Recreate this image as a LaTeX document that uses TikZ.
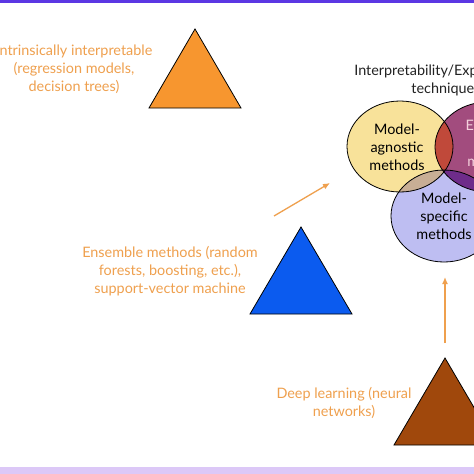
\documentclass[tikz,border=0pt]{standalone}
\usepackage{fontspec}
\setmainfont{Lato}
\usetikzlibrary{arrows.meta}
\definecolor{lblc}{HTML}{EFA04E}
\definecolor{topbar}{HTML}{5B37E3}
\definecolor{botbar}{HTML}{DCC8F7}
\definecolor{triorange}{HTML}{F7962F}
\definecolor{triblue}{HTML}{0B5BEF}
\definecolor{tribrown}{HTML}{A0480C}
\definecolor{vyellow}{HTML}{F8E29A}
\definecolor{vpurple}{HTML}{A24C7E}
\definecolor{vlav}{HTML}{BEBEF2}
\definecolor{vyp}{HTML}{C0493A}
\definecolor{vyl}{HTML}{C8AE95}
\definecolor{vpl}{HTML}{6E2C8A}
\definecolor{vall}{HTML}{5A2448}
\definecolor{titlec}{HTML}{222222}
\definecolor{ptext}{HTML}{F4D0DC}
\tikzset{
  lbl/.style={text=lblc, align=center, font=\fontsize{14.4}{18}\selectfont, inner sep=0pt},
  vtext/.style={text=black, align=center, font=\fontsize{14.4}{18}\selectfont, inner sep=0pt},
  tri/.style={draw=black, line width=0.8pt, line join=miter},
  ell/.style={draw=black, line width=0.8pt},
  arr/.style={draw=lblc, line width=1.3pt, -{Latex[length=7pt,width=6pt]}}
}
\begin{document}
\begin{tikzpicture}[x=1pt,y=-1pt]
\useasboundingbox (0,0) rectangle (474,474);
\clip (0,0) rectangle (474,474);
\fill[white] (0,0) rectangle (474,474);
\fill[topbar] (0,0) rectangle (474,2.5);
\fill[botbar] (0,467) rectangle (474,474);

% triangles
\draw[tri, fill=triorange] (149,108) -- (195,29) -- (241,108) -- cycle;
\draw[tri, fill=triblue] (250,314) -- (301,227) -- (352,314) -- cycle;
\draw[tri, fill=tribrown] (394,445) -- (445,358) -- (496,445) -- cycle;

% labels
\node[lbl] (intr) at (74,69.5) {Intrinsically interpretable\\(regression models,\\decision trees)};
\node[lbl] (ens) at (170,271) {Ensemble methods (random\\forests, boosting, etc.),\\support-vector machine};
\node[lbl] (deep) at (344,403) {Deep learning (neural\\networks)};
\node[vtext, text=titlec] (title) at (446,80) {Interpretability/Explainability\\techniques};

% venn
\def\Ey{(400,146.5) ellipse [x radius=53, y radius=45.5]}
\def\Ep{(488,147) ellipse [x radius=53, y radius=45]}
\def\El{(444,216) ellipse [x radius=53, y radius=46]}
\fill[vyellow] \Ey;
\fill[vpurple] \Ep;
\fill[vlav] \El;
\begin{scope}
  \clip \Ey;
  \fill[vyp] \Ep;
  \fill[vyl] \El;
  \clip \Ep;
  \fill[vall] \El;
\end{scope}
\begin{scope}
  \clip \Ep;
  \clip \El;
  \fill[vpl] (380,100) rectangle (474,270);
  \clip \Ey;
  \fill[vall] (380,100) rectangle (474,270);
\end{scope}
\draw[ell] \Ey;
\draw[ell] \Ep;
\draw[ell] \El;

\node[vtext] (agn) at (397,147) {Model-\\agnostic\\methods};
\node[vtext] (spec) at (444,216) {Model-\\specific\\methods};
\node[vtext, text=ptext] (expl) at (495,143) {Example-\\based\\methods};

% arrows
\coordinate (a1s) at (274,216);
\coordinate (a1e) at (330,183);
\coordinate (a2s) at (445,343);
\coordinate (a2e) at (445,277);
\draw[arr] (a1s) -- (a1e);
\draw[arr] (a2s) -- (a2e);
\end{tikzpicture}
\end{document}
